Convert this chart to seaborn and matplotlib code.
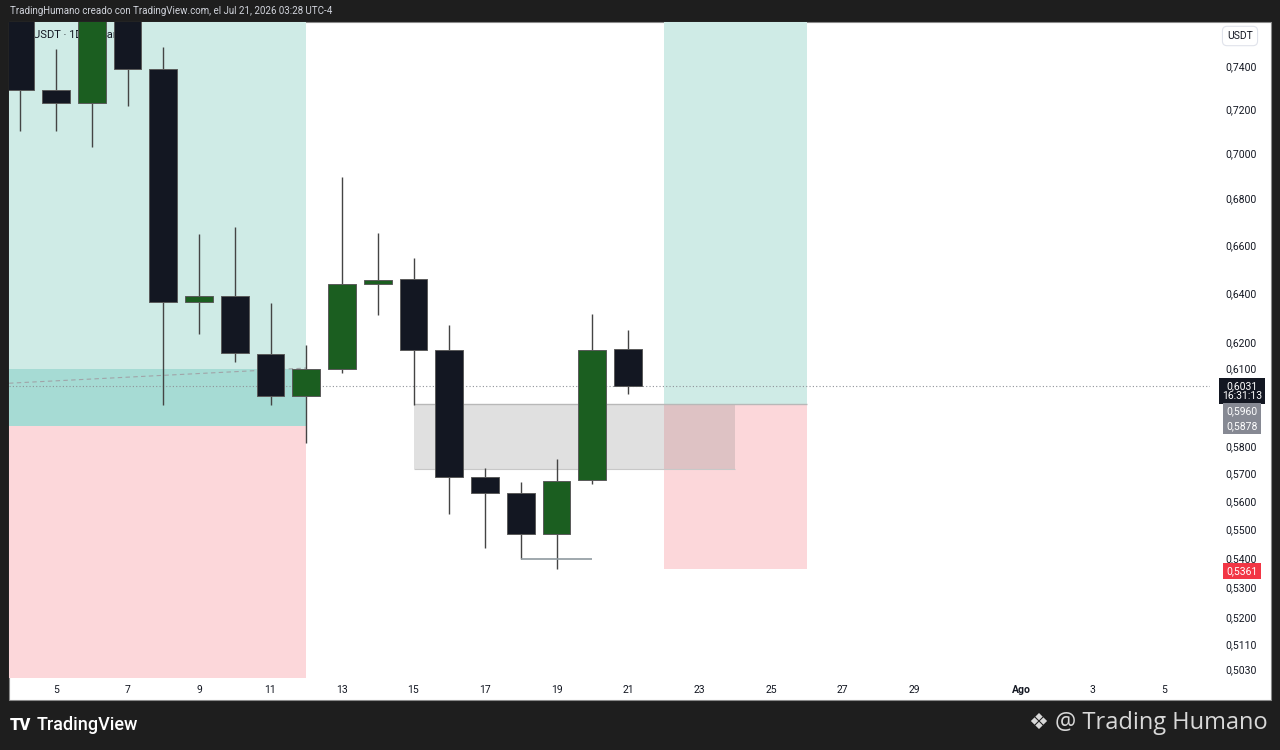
import matplotlib
matplotlib.use("Agg")
import matplotlib.pyplot as plt
import matplotlib.patches as mpatches
import matplotlib.ticker as mticker
import seaborn as sns

# Daily candles, July 2026 (x = day of month, August days continue at 31 + d)
days = [4, 5, 6, 7, 8, 9, 10, 11, 12, 13, 14, 15, 16, 17, 18, 19, 20, 21]
opens = [0.7750, 0.7287, 0.7227, 0.7750, 0.7386, 0.6362, 0.6386, 0.6154, 0.5990,
         0.6095, 0.6436, 0.6456, 0.6169, 0.5687, 0.5630, 0.5484, 0.5677, 0.6173]
highs = [0.7900, 0.7481, 0.7800, 0.7900, 0.7491, 0.6645, 0.6675, 0.6358, 0.6189,
         0.6892, 0.6649, 0.6544, 0.6269, 0.5721, 0.5670, 0.5754, 0.6313, 0.6249]
lows = [0.7099, 0.7099, 0.7026, 0.7213, 0.5956, 0.6233, 0.6122, 0.5956, 0.5813,
        0.6080, 0.6309, 0.5956, 0.5554, 0.5435, 0.5397, 0.5362, 0.5662, 0.5998]
closes = [0.7287, 0.7227, 0.7750, 0.7386, 0.6362, 0.6386, 0.6158, 0.5990, 0.6095,
          0.6436, 0.6452, 0.6169, 0.5687, 0.5630, 0.5484, 0.5673, 0.6169, 0.6031]

price_ticks = [0.7400, 0.7200, 0.7000, 0.6800, 0.6600, 0.6400, 0.6200, 0.6100,
               0.5800, 0.5700, 0.5600, 0.5500, 0.5400, 0.5300, 0.5200, 0.5110, 0.5030]
time_ticks = [5, 7, 9, 11, 13, 15, 17, 19, 21, 23, 25, 27, 29, 32, 34, 36]
time_labels = ["5", "7", "9", "11", "13", "15", "17", "19", "21", "23", "25",
               "27", "29", "Ago", "3", "5"]

last_price = 0.6031
# drawings: long positions, gray zone, swing low line
left_pos = dict(x0=3.0, x1=12, entry=0.5878, band_top=0.6095)
right_pos = dict(x0=22, x1=26, entry=0.5960, stop=0.5361)
zone = dict(x0=15, x1=24, top=0.5960, bottom=0.5717)
low_line = dict(x0=18, x1=20, y=0.5397)
trend_x = [3.685, 12]
trend_y = [0.6040, 0.6099]

sns.set_theme(style="white")
plt.rcParams['font.family'] = ['Roboto', 'DejaVu Sans']

W, H = 1280, 750
fig = plt.figure(figsize=(12.8, 7.5), dpi=100, facecolor='#1e1e1e')


def px(x, y):
    return x / W, 1 - y / H


# white chart panel
fig.patches.append(mpatches.Rectangle(px(9, 700), 1262 / W, 678 / H,
                                      transform=fig.transFigure, facecolor='white',
                                      edgecolor='#8a8a8a', linewidth=0.8, zorder=0))

ax = fig.add_axes([9 / W, 72 / H, 1201 / W, 656 / H])
ax.set_zorder(1)
ax.patch.set_alpha(0)
ax.set_yscale('log')
ax.set_xlim(3.685, 37.28)
ax.set_ylim(0.5001, 0.7612)

teal = '#cfebe6'
pink = '#fcd7da'

# left long position
ax.add_patch(mpatches.Rectangle((left_pos['x0'], left_pos['entry']),
                                left_pos['x1'] - left_pos['x0'], 0.9 - left_pos['entry'],
                                facecolor=teal, edgecolor='none', zorder=1))
ax.add_patch(mpatches.Rectangle((left_pos['x0'], left_pos['entry']),
                                left_pos['x1'] - left_pos['x0'],
                                left_pos['band_top'] - left_pos['entry'],
                                facecolor='#a6dbd4', edgecolor='none', zorder=1))
ax.add_patch(mpatches.Rectangle((left_pos['x0'], 0.45),
                                left_pos['x1'] - left_pos['x0'], left_pos['entry'] - 0.45,
                                facecolor=pink, edgecolor='none', zorder=1))
ax.plot(trend_x, trend_y, color='#a0a4a8', lw=0.8, ls=(0, (4, 3)), zorder=2)

# right long position
ax.add_patch(mpatches.Rectangle((right_pos['x0'], right_pos['entry']),
                                right_pos['x1'] - right_pos['x0'], 0.9 - right_pos['entry'],
                                facecolor=teal, edgecolor='none', zorder=1))
ax.add_patch(mpatches.Rectangle((right_pos['x0'], right_pos['stop']),
                                right_pos['x1'] - right_pos['x0'],
                                right_pos['entry'] - right_pos['stop'],
                                facecolor=pink, edgecolor='none', zorder=1))

# gray zone
ax.add_patch(mpatches.Rectangle((zone['x0'], zone['bottom']), zone['x1'] - zone['x0'],
                                zone['top'] - zone['bottom'], facecolor=(0.5, 0.5, 0.5),
                                alpha=0.24, edgecolor='none', zorder=2))
ax.hlines(zone['top'], zone['x0'], right_pos['x1'], color='#b8b8b8', lw=1, zorder=2)
ax.hlines(zone['bottom'], zone['x0'], zone['x1'], color='#c8c8c8', lw=0.8, zorder=2)

# symbol title, partly hidden by candles
ax.text(*px(33, 35), "USDT · 1D · Binance", transform=fig.transFigure, color='#131722',
        fontsize=8, va='center', ha='left', zorder=2.5)

# candles
green = '#1b5e20'
dark = '#131722'
ax.vlines(days, lows, highs, color='#444444', lw=1, zorder=3)
bottoms = [min(o, c) for o, c in zip(opens, closes)]
heights = [abs(c - o) for o, c in zip(opens, closes)]
colors = [green if c >= o else dark for o, c in zip(opens, closes)]
ax.bar(days, heights, bottom=bottoms, width=0.78, color=colors,
       edgecolor='#5a5a5a', linewidth=0.7, zorder=4)

ax.hlines(low_line['y'], low_line['x0'], low_line['x1'], color='#8f9aa0', lw=1.2, zorder=5)

# current price dotted line
ax.axhline(last_price, color='#8f9298', lw=0.8, ls=(0, (1, 2)), zorder=2)

# axes styling
for s in ax.spines.values():
    s.set_visible(False)
ax.yaxis.tick_right()
ax.yaxis.set_major_locator(mticker.FixedLocator(price_ticks))
ax.yaxis.set_minor_locator(mticker.NullLocator())
ax.yaxis.set_major_formatter(mticker.FuncFormatter(lambda v, p: f"{v:.4f}".replace('.', ',')))
ax.yaxis.set_minor_formatter(mticker.NullFormatter())
ax.tick_params(axis='y', length=0, pad=11, labelsize=7.5, labelcolor='#131722')
ax.set_xticks(time_ticks)
ax.set_xticklabels(time_labels)
ax.tick_params(axis='x', length=0, pad=5, labelsize=7.5, labelcolor='#131722')
for lab in ax.get_xticklabels():
    if lab.get_text() == "Ago":
        lab.set_fontweight('bold')
ax.grid(False)


# price labels on the scale
def scale_label(y_px, text, fc, tc='white'):
    fig.text(1242 / W, 1 - y_px / H, text, ha='center', va='center', fontsize=7.5,
             color=tc, linespacing=1.05,
             bbox=dict(boxstyle='square,pad=0.3', fc=fc, ec='none'), zorder=5)


scale_label(391, "0,6031\n16:31:13", dark)
scale_label(411, "0,5960", '#868993')
scale_label(426, "0,5878", '#868993')
scale_label(571, "0,5361", '#f23645')
fig.text(1240 / W, 1 - 36 / H, "USDT", ha='center', va='center', fontsize=7.5, color='#131722',
         bbox=dict(boxstyle='round,pad=0.45', fc='white', ec='#e0e3eb', lw=0.8), zorder=5)

# header and footer
fig.text(*px(10, 11), "TradingHumano creado con TradingView.com, el Jul 21, 2026 03:28 UTC-4",
         color='#d1d4dc', fontsize=7, ha='left', va='center')
fig.text(*px(10, 725), "TV", color='white', fontsize=12, fontweight='heavy',
         ha='left', va='center')
fig.text(*px(37, 725), "TradingView", color='white', fontsize=13, fontweight='medium',
         ha='left', va='center')
fig.text(*px(1038, 723), "❖", color='#d8d8d8', fontsize=16, ha='center', va='center',
         family=['DejaVu Sans'])
fig.text(*px(1268, 723), "@ Trading Humano", color='#d8d8d8', fontsize=17,
         ha='right', va='center', family=['Open Sans', 'DejaVu Sans'])

fig.savefig("out.png", dpi=100, facecolor=fig.get_facecolor())
